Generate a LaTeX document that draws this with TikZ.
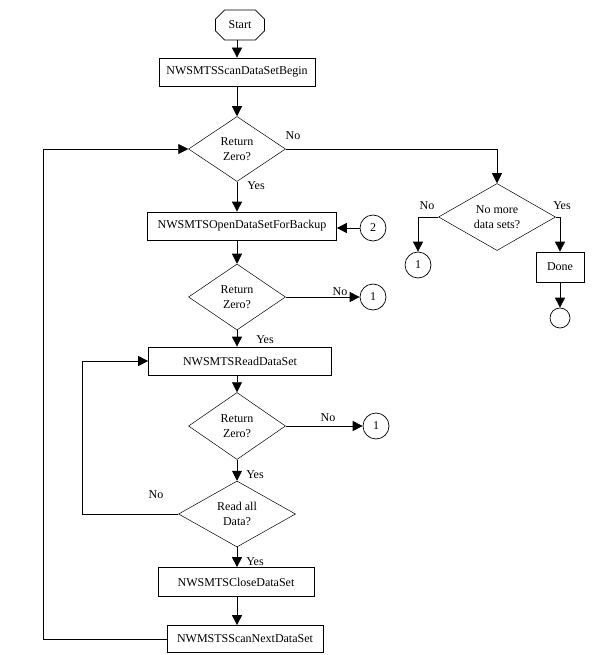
\documentclass[tikz,border=0pt]{standalone}
\usepackage{fontspec}
\setmainfont{Liberation Serif}
\usetikzlibrary{shapes.geometric,shapes.misc,arrows.meta}
\begin{document}
\begin{tikzpicture}[x=1pt,y=-1pt,
  every node/.style={font=\fontsize{12}{15}\selectfont},
  ln/.style={line width=0.7pt},
  arr/.style={ln,-{Triangle[length=10pt,width=10pt]}},
  box/.style={draw,ln,minimum width=#1,minimum height=28pt,inner sep=0pt},
  dec/.style={draw,line width=0.5pt,shape=diamond,aspect=1.5,inner sep=0pt,align=center,minimum width=#1},
  conn/.style={draw,ln,circle,minimum size=26pt,inner sep=0pt},
  term/.style={draw,ln,chamfered rectangle,chamfered rectangle xsep=5pt,chamfered rectangle ysep=5pt,minimum width=49pt,minimum height=30pt,inner sep=0pt},
  lbl/.style={inner sep=0pt}]
\useasboundingbox (0,0) rectangle (592,655);
% nodes
\node[term] (start) at (240,25) {Start};
\node[box=156pt] (b1) at (237,72) {NWSMTSScanDataSetBegin};
\node[dec=97pt,minimum height=65pt] (d1) at (237,149) {Return\\Zero?};
\node[box=189pt] (b2) at (242,226) {NWSMTSOpenDataSetForBackup};
\node[conn] (c2) at (373,228) {2};
\node[dec=97pt,minimum height=66pt] (d2) at (237,297) {Return\\Zero?};
\node[conn] (c1a) at (373,297) {1};
\node[box=183pt] (b3) at (240,361) {NWSMTSReadDataSet};
\node[dec=97pt,minimum height=67pt] (d3) at (237,426) {Return\\Zero?};
\node[conn] (c1b) at (376,426) {1};
\node[dec=117pt,minimum height=66pt] (d4) at (237,514) {Read all\\Data?};
\node[box=156pt,minimum height=29pt] (b4) at (236,582) {NWSMTSCloseDataSet};
\node[box=156pt,minimum height=27pt] (b5) at (245,639) {NWMSTSScanNextDataSet};
\node[dec=117pt,minimum height=67pt] (d5) at (497,217) {No more\\data sets?};
\node[conn] (c1c) at (418,265) {1};
\node[box=48pt,minimum height=30pt] (done) at (560,267) {Done};
\node[draw,ln,circle,minimum size=20pt,inner sep=0pt] (end) at (560,318) {};
\coordinate (lx) at (43,0);
\coordinate (rx) at (82,0);
% connectors
\draw[arr] (start.south -| b1.north) -- (b1.north);
\draw[arr] (b1) -- (d1);
\draw[arr] (d1) -- (b2.north -| d1.south);
\draw[arr] (b2.south -| d2.north) -- (d2);
\draw[arr] (c2.west) -- (c2.west -| b2.east);
\draw[arr] (d2.east) -- (c1a);
\draw[arr] (d2) -- (b3.north -| d2.south);
\draw[arr] (b3.south -| d3.north) -- (d3);
\draw[arr] (d3.east) -- (c1b);
\draw[arr] (d3) -- (d4);
\draw[arr] (d4) -- (b4.north -| d4.south);
\draw[arr] (b4.south -| d4.south) -- (b5.north -| d4.south);
\draw[arr] (d4.west) -- (d4.west -| rx) -- (b3.west -| rx) -- (b3.west);
\draw[arr] (b5.west) -- (b5.west -| lx) -- (d1.west -| lx) -- (d1.west);
\draw[arr] (d1.east) -- (d1.east -| d5.north) -- (d5.north);
\draw[arr] (d5.west) -- (d5.west -| c1c.north) -- (c1c.north);
\draw[arr] (d5.east) -- (d5.east -| done.north) -- (done.north);
\draw[arr] (done) -- (end);
% labels
\node[lbl] (l1) at (293,136) {No};
\node[lbl] (l2) at (256,186) {Yes};
\node[lbl] (l3) at (427,206) {No};
\node[lbl] (l4) at (562,206) {Yes};
\node[lbl] (l5) at (340,292) {No};
\node[lbl] (l6) at (265,340) {Yes};
\node[lbl] (l7) at (328,418) {No};
\node[lbl] (l8) at (255,475) {Yes};
\node[lbl] (l9) at (156,495) {No};
\node[lbl] (l10) at (255,562) {Yes};
\end{tikzpicture}
\end{document}
